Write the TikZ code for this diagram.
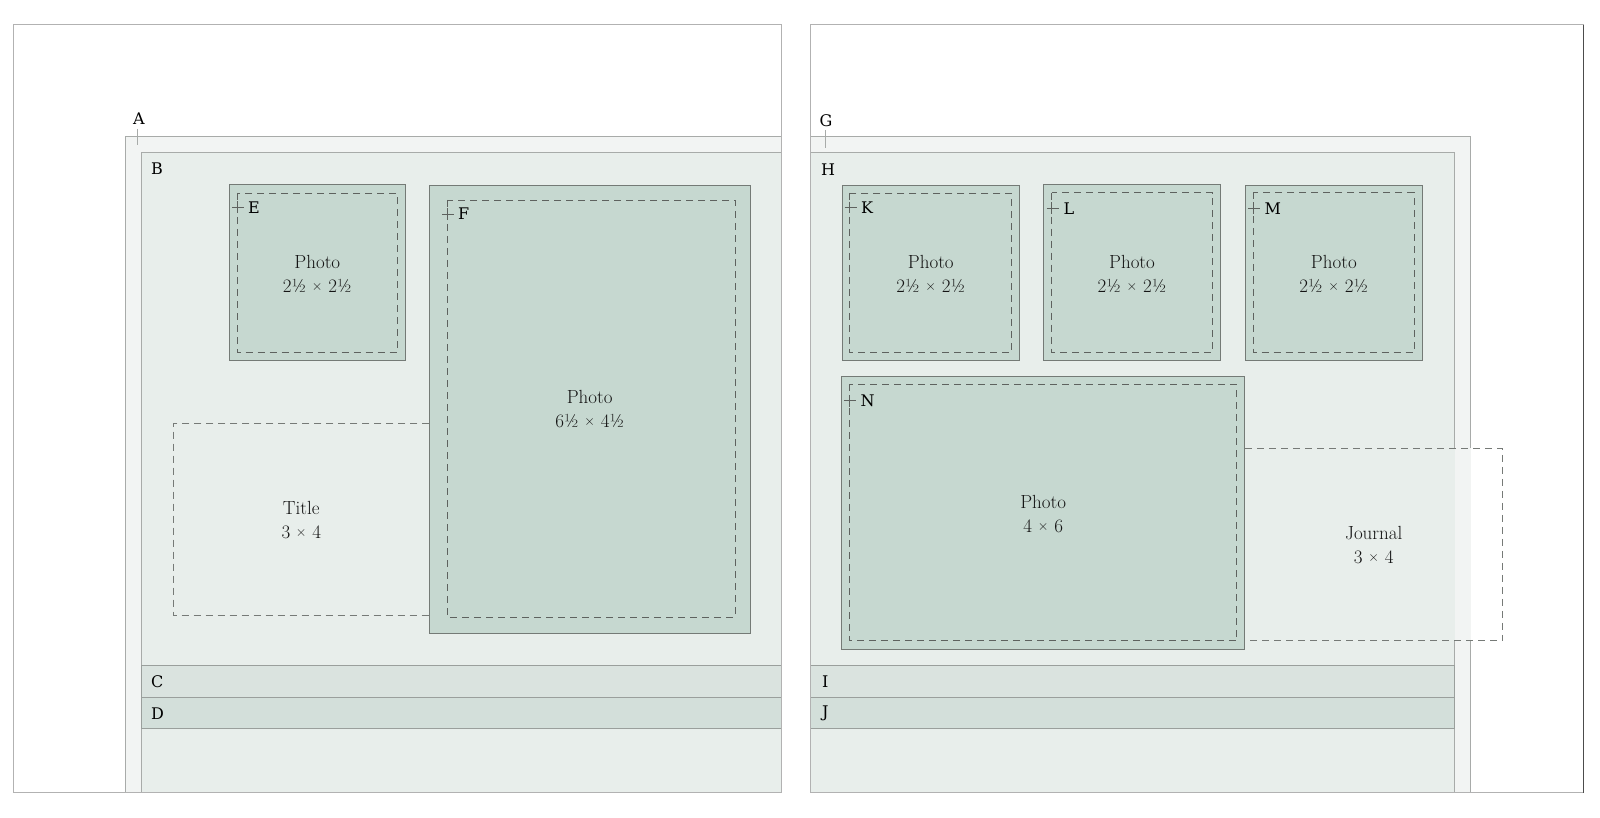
\documentclass[tikz,border=0pt]{standalone}
\usepackage{fontspec}
\newfontfamily\labelfont{DejaVu Serif}
\definecolor{pageline}{HTML}{B2B2B2}
\definecolor{layerA}{HTML}{F2F4F3}
\definecolor{layerB}{HTML}{E8EEEB}
\definecolor{layerline}{HTML}{A8ABA9}
\definecolor{bandC}{HTML}{DAE3DF}
\definecolor{bandD}{HTML}{D3DFDA}
\definecolor{bandline}{HTML}{9A9F9C}
\definecolor{photofill}{HTML}{C6D8D0}
\definecolor{photoline}{HTML}{747A76}
\definecolor{dashline}{HTML}{5E625F}
\definecolor{txt}{HTML}{141414}
\newcommand{\tms}{{\fontsize{14}{14}\selectfont\raisebox{2.2pt}{×}}}
\tikzset{
  pagebox/.style={draw=pageline, fill=white, line width=0.9pt},
  layerAbox/.style={draw=layerline, fill=layerA, line width=0.9pt},
  layerBbox/.style={draw=layerline, fill=layerB, line width=0.9pt},
  bandCbox/.style={draw=bandline, fill=bandC, line width=0.9pt},
  bandDbox/.style={draw=bandline, fill=bandD, line width=0.9pt},
  photobox/.style={draw=photoline, fill=photofill, line width=0.8pt},
  safeline/.style={draw=dashline, line width=0.7pt, dash pattern=on 7pt off 5pt},
  slotline/.style={draw=dashline!85!white, line width=0.7pt, dash pattern=on 7pt off 5pt},
  crossmark/.style={draw=dashline, line width=0.7pt},
  tag/.style={font=\labelfont\fontsize{16}{19}\selectfont, text=black, inner sep=0pt},
  caption/.style={font=\fontsize{19}{24}\selectfont, text=txt, align=center, inner sep=0pt},
  tick/.style={draw=layerline, line width=0.9pt}
}
\begin{document}
\begin{tikzpicture}[x=1pt,y=-1pt]
\useasboundingbox (0,0) rectangle (1600,818);
% pages
\draw[pagebox] (13.7,24.7) rectangle (781.7,792.7);
\draw[pagebox] (810,24.7) rectangle (1583.3,792.7);
\draw[draw=black!70, line width=0.9pt] (1583.3,24.7) -- (1583.3,792.7);
% left page layers
\draw[layerAbox] (125.7,136.7) rectangle (781.7,792.7);
\draw[layerBbox] (141.7,152.7) rectangle (781.7,792.7);
\draw[bandCbox] (141.7,665) rectangle (781.7,697);
\draw[bandDbox] (141.7,697) rectangle (781.7,728.3);
% right page layers
\draw[layerAbox] (810,136.7) rectangle (1470.7,792.7);
\draw[layerBbox] (810,152.7) rectangle (1454.7,792.7);
\draw[bandCbox] (810,665) rectangle (1454.7,697);
\draw[bandDbox] (810,697) rectangle (1454.7,728.3);
% re-draw page outline edges on top
\draw[pageline, line width=0.9pt] (13.7,792.7) -- (781.7,792.7) -- (781.7,24.7);
\draw[pageline, line width=0.9pt] (810,24.7) -- (810,792.7) -- (1583.3,792.7);

% layer labels
\node[tag] (A) at (139,118.3) {A};
\coordinate (Atick) at (137.7,145);
\draw[tick] (137.7,129) -- (Atick);
\node[tag, anchor=west] (B) at (151,169) {B};
\node[tag, anchor=west] (C) at (151,681.7) {C};
\node[tag, anchor=west] (D) at (151,713.3) {D};
\node[tag] (G) at (826,120.7) {G};
\coordinate (Gtick) at (825.7,148);
\draw[tick] (825.7,130) -- (Gtick);
\node[tag, anchor=west] (H) at (821,169.3) {H};
\node[tag, anchor=west] (I) at (822,681.7) {I};
\node[tag, anchor=west] (J) at (822,713.3) {J};

% title slot
\draw[slotline] (429.3,423.7) -- (173.3,423.7) -- (173.3,615.3) -- (429.3,615.3);
\node[caption] (title) at (301.3,520) {Title\\3 \tms{} 4};

% photo E
\draw[photobox] (229.3,184.3) rectangle (405.3,360.3);
\draw[safeline] (237,193) rectangle (397.3,352.3);
\draw[crossmark] (232,207.3) -- (244,207.3) (237,201.5) -- (237,213.3);
\node[tag, anchor=west] (E) at (248,207.3) {E};
\node[caption] (photoE) at (317.3,274) {Photo\\2½ \tms{} 2½};

% photo F
\draw[photobox] (429.3,185) rectangle (750,633);
\draw[safeline] (447,200) rectangle (735,617);
\draw[crossmark] (442,214) -- (454,214) (447,208.2) -- (447,220);
\node[tag, anchor=west] (F) at (458,214) {F};
\node[caption] (photoF) at (589.7,409.5) {Photo\\6½ \tms{} 4½};

% photo K
\draw[photobox] (842.3,185) rectangle (1019.3,360.5);
\draw[safeline] (849.7,193) rectangle (1011.7,352.3);
\draw[crossmark] (844.7,207.5) -- (856.7,207.5) (849.7,201.7) -- (849.7,213.3);
\node[tag, anchor=west] (K) at (861,207.5) {K};
\node[caption] (photoK) at (930.8,274) {Photo\\2½ \tms{} 2½};

% photo L
\draw[photobox] (1043.3,184.7) rectangle (1220.7,360.7);
\draw[safeline] (1051.7,192.7) rectangle (1212.7,352.3);
\draw[crossmark] (1046.7,208.3) -- (1058.7,208.3) (1051.7,202.5) -- (1051.7,214.1);
\node[tag, anchor=west] (L) at (1063.5,208.3) {L};
\node[caption] (photoL) at (1132,274) {Photo\\2½ \tms{} 2½};

% photo M
\draw[photobox] (1245.3,185) rectangle (1422.3,360.3);
\draw[safeline] (1253.3,192.5) rectangle (1414,352.2);
\draw[crossmark] (1248.3,208.3) -- (1260.3,208.3) (1253.3,202.5) -- (1253.3,214.1);
\node[tag, anchor=west] (M) at (1264.5,208.3) {M};
\node[caption] (photoM) at (1333.8,274) {Photo\\2½ \tms{} 2½};

% photo N
\draw[photobox] (841.7,376.3) rectangle (1244.7,649);
\draw[safeline] (849.3,384.3) rectangle (1236.7,640.7);
\draw[crossmark] (844.3,400.7) -- (856.3,400.7) (849.3,394.9) -- (849.3,406.5);
\node[tag, anchor=west] (N) at (860.5,400.7) {N};
\node[caption] (photoN) at (1043.2,514) {Photo\\4 \tms{} 6};

% journal slot
\fill[layerB] (1245.2,448.3) rectangle (1454.7,640.7);
\fill[layerA] (1454.7,448.3) rectangle (1470.7,640.7);
\draw[slotline] (1245.2,448.3) -- (1502.7,448.3) -- (1502.7,640.7) -- (1245.2,640.7);
\node[caption] (journal) at (1373.7,545.5) {Journal\\3 \tms{} 4};
\end{tikzpicture}
\end{document}
